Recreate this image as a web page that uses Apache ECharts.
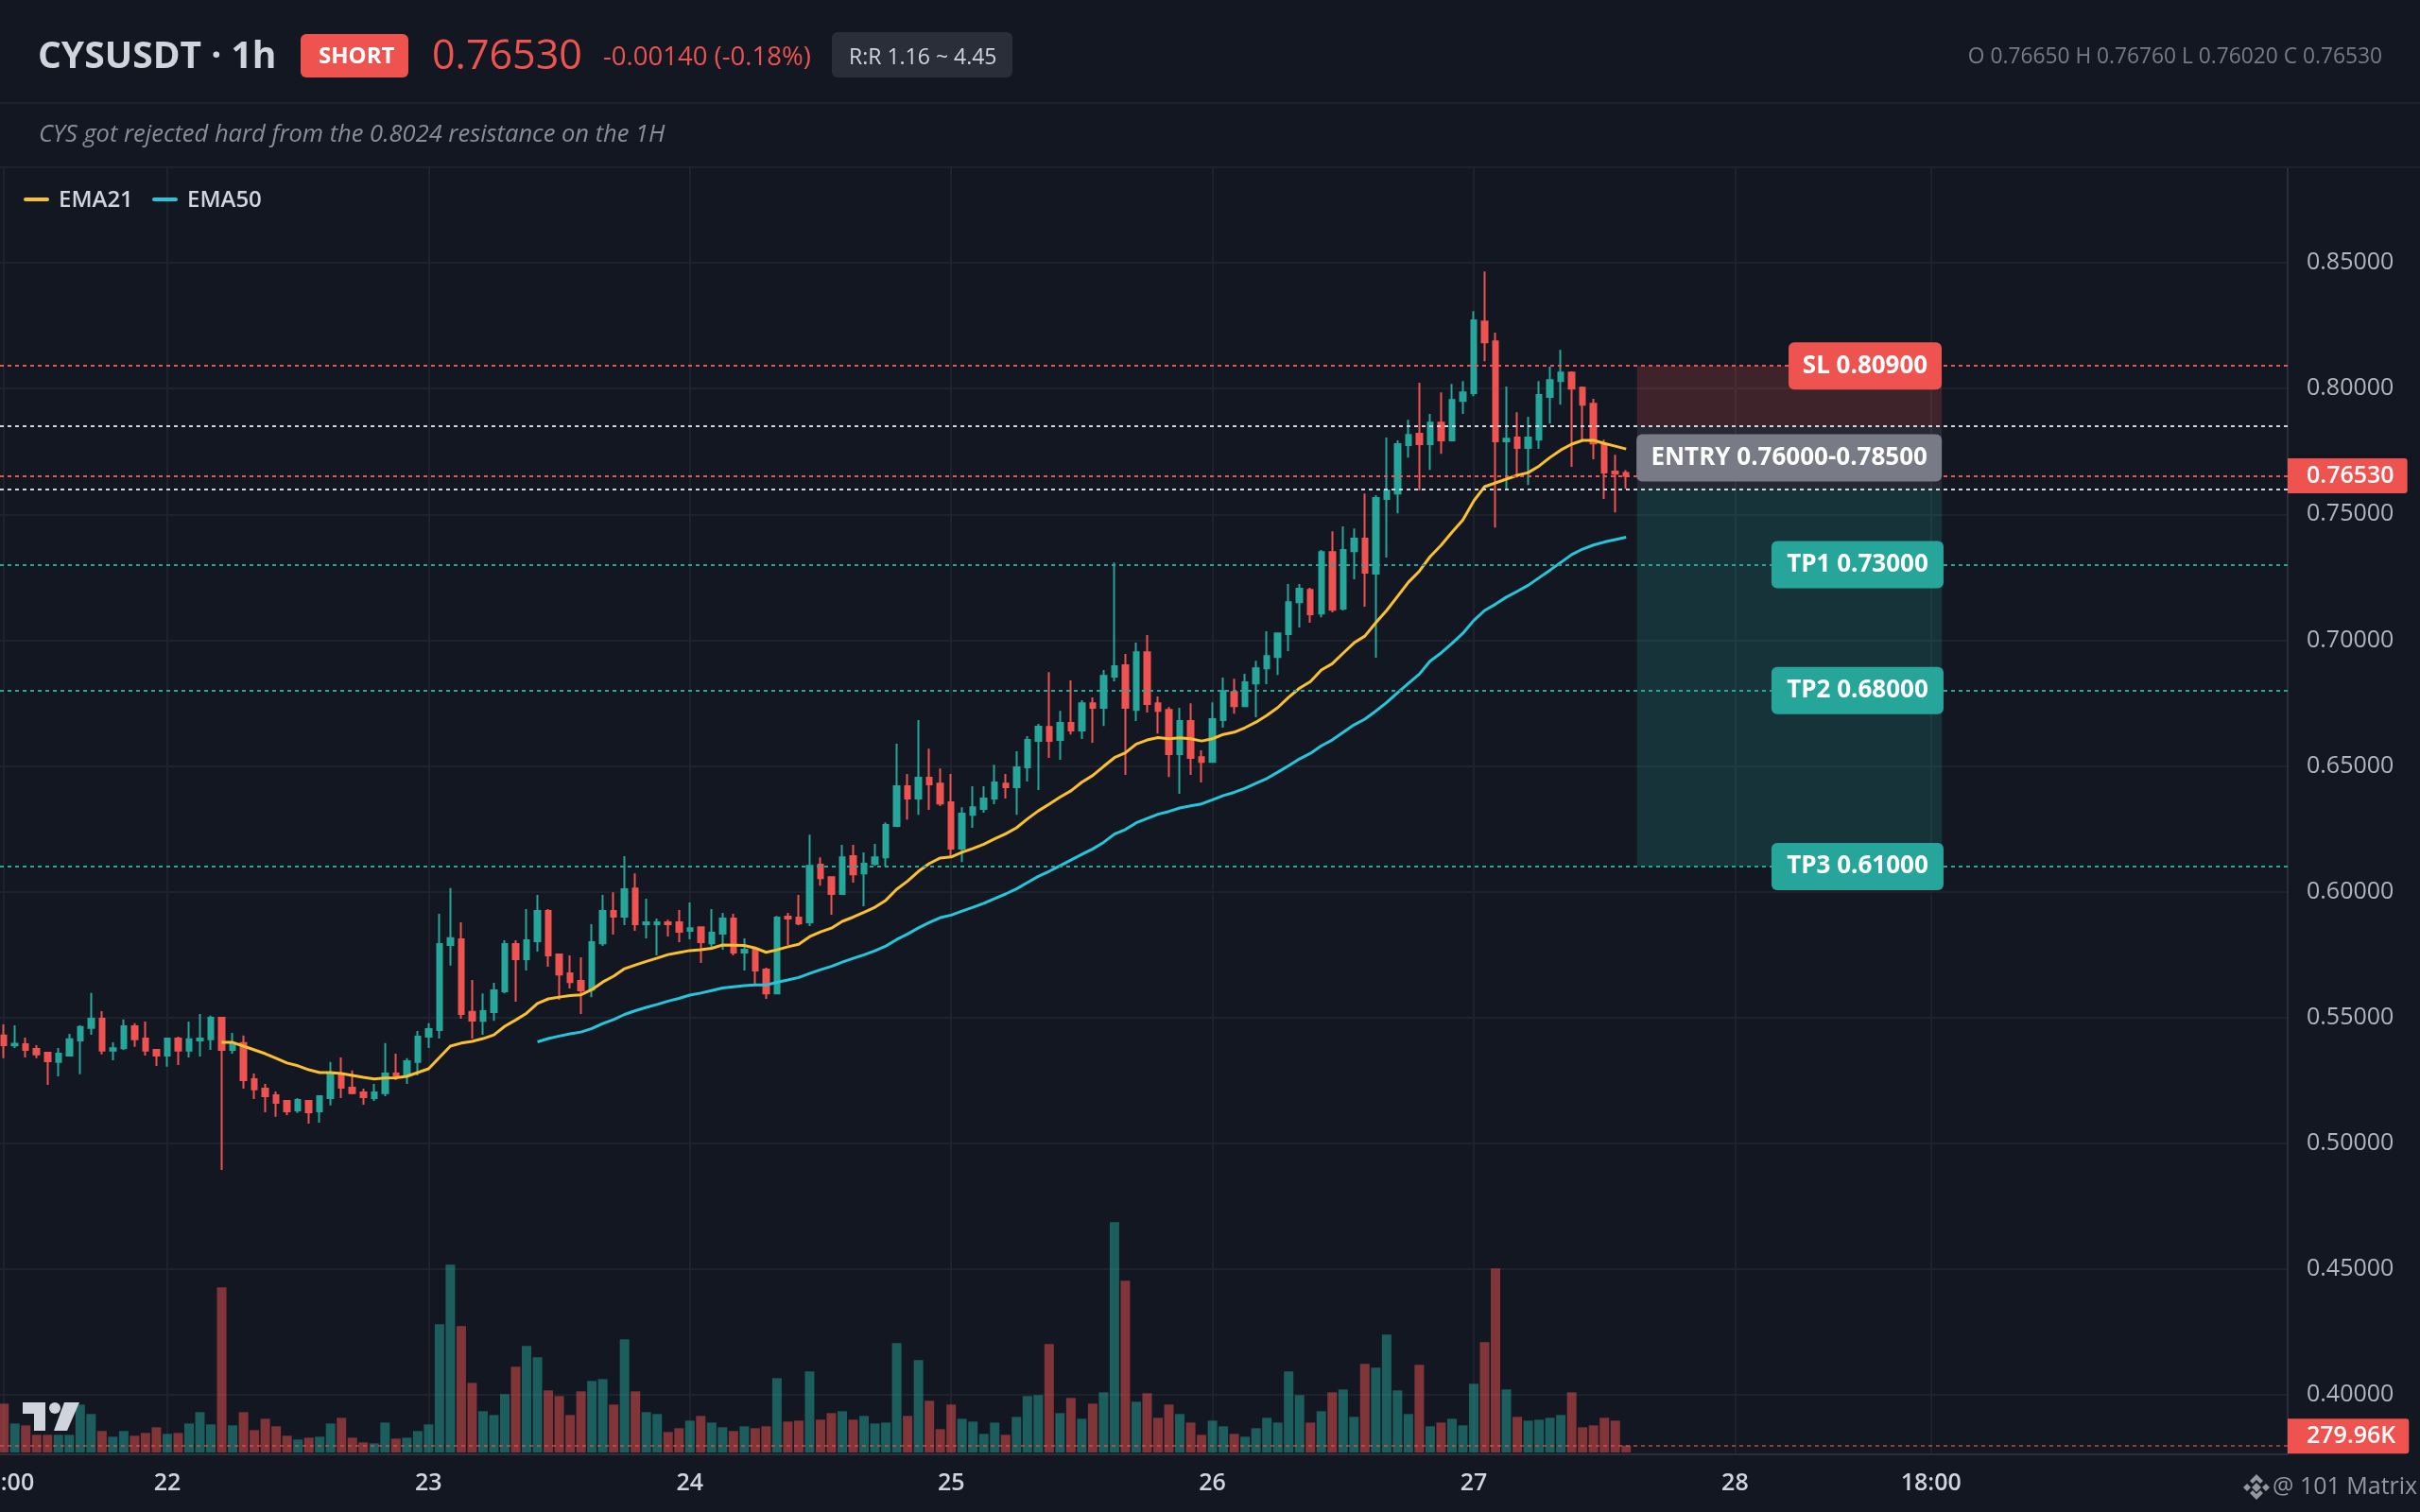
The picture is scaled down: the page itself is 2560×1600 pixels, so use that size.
<!DOCTYPE html>
<html><head><meta charset="utf-8"><title>CYSUSDT</title>
<script src="https://cdn.jsdelivr.net/npm/echarts@6/dist/echarts.min.js"></script>
<style>html,body{margin:0;padding:0;background:#131722}#c{width:2560px;height:1600px}</style>
</head><body><div id="c"></div>
<script>
const opens=[.5428,.5389,.5394,.5375,.5360,.5323,.5349,.5409,.5458,.5495,.5368,.5378,.5465,.5416,.5371,.5349,.5416,.5368,.5409,.5413,.5499,.5371,.5398,.5255,.5217,.5191,.5168,.5131,.5168,.5127,.5180,.5277,.5221,.5202,.5180,.5199,.5277,.5270,.5323,.5424,.5450,.5788,.5811,.5522,.5487,.5521,.5604,.5792,.5732,.5803,.5923,.5751,.5675,.5645,.5611,.5795,.5923,.5901,.6013,.5871,.5871,.5878,.5878,.5844,.5859,.5795,.5833,.5893,.5758,.5769,.5690,.5596,.5901,.5897,.5878,.6107,.6058,.5991,.6141,.6073,.6111,.6137,.6261,.6419,.6370,.6453,.6430,.6355,.6171,.6306,.6329,.6370,.6430,.6415,.6494,.6600,.6655,.6603,.6671,.6641,.6749,.6731,.6855,.6900,.6723,.6952,.6749,.6723,.6547,.6678,.6535,.6516,.6682,.6794,.6738,.6828,.6888,.6933,.7024,.7151,.7200,.7106,.7350,.7125,.7354,.7403,.7264,.7561,.7583,.7775,.7820,.7779,.7865,.7794,.7951,.7982,.8267,.8188,.7790,.7805,.7764,.7797,.7967,.8030,.8064,.8004,.7940,.7775,.7670,.7665];
const closes=[.5390,.5396,.5371,.5353,.5326,.5356,.5413,.5462,.5495,.5368,.5378,.5465,.5413,.5368,.5349,.5416,.5368,.5413,.5416,.5499,.5371,.5398,.5251,.5214,.5187,.5161,.5127,.5172,.5123,.5187,.5277,.5221,.5199,.5183,.5202,.5277,.5270,.5326,.5424,.5454,.5792,.5815,.5514,.5488,.5525,.5608,.5792,.5732,.5807,.5923,.5747,.5671,.5641,.5608,.5799,.5923,.5901,.6010,.5871,.5878,.5878,.5871,.5841,.5855,.5799,.5837,.5893,.5758,.5769,.5687,.5596,.5897,.5893,.5874,.6103,.6054,.5991,.6137,.6069,.6111,.6137,.6265,.6419,.6370,.6453,.6427,.6351,.6171,.6310,.6336,.6370,.6434,.6415,.6494,.6603,.6656,.6600,.6671,.6641,.6749,.6731,.6858,.6896,.6731,.6952,.6746,.6719,.6547,.6678,.6532,.6516,.6686,.6798,.6738,.6832,.6888,.6937,.7027,.7151,.7204,.7103,.7350,.7121,.7358,.7403,.7268,.7565,.7595,.7779,.7816,.7779,.7865,.7794,.7955,.7985,.8271,.8184,.7790,.7801,.7764,.7805,.7974,.8034,.8064,.8000,.7936,.7782,.7666,.7662,.7653];
const lows=[.5338,.5379,.5341,.5338,.5232,.5266,.5349,.5274,.5431,.5353,.5330,.5371,.5383,.5349,.5307,.5304,.5311,.5341,.5345,.5371,.4894,.5356,.5217,.5176,.5123,.5105,.5112,.5120,.5078,.5082,.5150,.5180,.5195,.5153,.5168,.5187,.5251,.5236,.5270,.5379,.5416,.5706,.5495,.5416,.5431,.5487,.5596,.5563,.5687,.5762,.5702,.5570,.5615,.5514,.5581,.5784,.5829,.5867,.5844,.5814,.5747,.5822,.5799,.5811,.5717,.5780,.5769,.5747,.5687,.5634,.5574,.5592,.5788,.5867,.5863,.6024,.5908,.5987,.6036,.5942,.6103,.6100,.6258,.6287,.6306,.6325,.6340,.6138,.6118,.6254,.6314,.6348,.6370,.6306,.6438,.6404,.6532,.6524,.6625,.6607,.6592,.6659,.6836,.6464,.6678,.6712,.6629,.6456,.6389,.6464,.6434,.6516,.6652,.6708,.6734,.6693,.6825,.6862,.6956,.7050,.7069,.7091,.7110,.7118,.7242,.7133,.6930,.7328,.7504,.7726,.7595,.7677,.7741,.7794,.7899,.7970,.8109,.7448,.7598,.7647,.7617,.7760,.7861,.7936,.7689,.7797,.7719,.7561,.7508,.7602];
const highs=[.5473,.5469,.5420,.5390,.5364,.5379,.5435,.5469,.5597,.5525,.5401,.5492,.5477,.5484,.5375,.5420,.5424,.5484,.5514,.5507,.5503,.5439,.5428,.5277,.5236,.5206,.5168,.5180,.5172,.5187,.5323,.5341,.5289,.5217,.5236,.5398,.5356,.5338,.5446,.5477,.5912,.6014,.5878,.5649,.5596,.5638,.5807,.5807,.5931,.5987,.5931,.5754,.5747,.5739,.5871,.5987,.5998,.6141,.6073,.5972,.5893,.5889,.5927,.5957,.5859,.5931,.5916,.5912,.5814,.5780,.5698,.5904,.5916,.5987,.6227,.6137,.6058,.6186,.6186,.6156,.6190,.6276,.6588,.6468,.6682,.6569,.6490,.6468,.6336,.6419,.6419,.6505,.6468,.6558,.6618,.6667,.6873,.6719,.6840,.6761,.6772,.6881,.7309,.6945,.6990,.7020,.6776,.6734,.6731,.6749,.6562,.6753,.6851,.6847,.6866,.6918,.7035,.7031,.7223,.7223,.7208,.7358,.7433,.7452,.7444,.7583,.7576,.7805,.7794,.7876,.8023,.7899,.7985,.8019,.8030,.8308,.8466,.8222,.8008,.7906,.7888,.8030,.8087,.8154,.8068,.8008,.7959,.7797,.7737,.7676];
const volumesK=[1973,1171,1095,713,713,713,713,1935,1553,866,637,866,675,789,1018,751,789,1171,1629,1133,6670,1095,1629,904,1362,1057,675,522,598,637,1171,1400,598,407,369,1209,560,598,866,1133,5181,7587,5105,2813,1668,1515,2355,3463,4303,3844,2508,2279,1515,2470,2890,2966,1935,4570,2470,1629,1553,827,980,1286,1477,1209,1018,866,1057,980,1057,3004,1248,1286,3272,1324,1591,1668,1324,1477,1171,1209,4417,1477,3730,2088,942,1935,1362,1248,751,1209,713,1438,2279,2317,4379,1591,2202,1362,1973,2431,9306,6938,2050,2393,1400,1935,1553,1209,713,1286,1057,751,637,980,1400,1209,3272,2317,1209,1668,2431,2546,1438,3577,3424,4761,2508,1553,3539,1057,1209,1362,1095,2775,4456,7434,2546,1438,1286,1324,1400,1515,2431,1018,1095,1400,1286,279.96];
const ema21=[null,null,null,null,null,null,null,null,null,null,null,null,null,null,null,null,null,null,null,null,.5401,.5401,.5386,.5371,.5356,.5338,.5319,.5308,.5292,.5281,.5281,.5277,.5270,.5262,.5256,.5259,.5260,.5266,.5281,.5296,.5341,.5386,.5398,.5405,.5416,.5431,.5465,.5490,.5517,.5556,.5574,.5581,.5587,.5590,.5611,.5641,.5664,.5694,.5709,.5723,.5736,.5750,.5758,.5766,.5769,.5775,.5788,.5787,.5786,.5776,.5759,.5769,.5781,.5791,.5821,.5840,.5855,.5882,.5899,.5918,.5938,.5966,.6010,.6042,.6081,.6112,.6134,.6138,.6157,.6172,.6189,.6210,.6230,.6254,.6289,.6321,.6348,.6376,.6401,.6435,.6462,.6498,.6533,.6552,.6587,.6603,.6613,.6608,.6612,.6608,.6599,.6608,.6625,.6634,.6652,.6674,.6701,.6732,.6773,.6809,.6835,.6881,.6906,.6948,.6989,.7016,.7069,.7118,.7174,.7230,.7274,.7332,.7377,.7429,.7478,.7553,.7610,.7625,.7640,.7655,.7666,.7692,.7726,.7756,.7779,.7794,.7794,.7782,.7771,.7760];
const ema50=[null,null,null,null,null,null,null,null,null,null,null,null,null,null,null,null,null,null,null,null,null,null,null,null,null,null,null,null,null,null,null,null,null,null,null,null,null,null,null,null,null,null,null,null,null,null,null,null,null,.5403,.5416,.5426,.5435,.5442,.5456,.5476,.5492,.5512,.5527,.5540,.5552,.5565,.5576,.5589,.5597,.5607,.5617,.5622,.5627,.5629,.5629,.5640,.5649,.5659,.5675,.5690,.5703,.5720,.5735,.5749,.5765,.5784,.5810,.5832,.5856,.5878,.5897,.5907,.5923,.5938,.5954,.5973,.5991,.6011,.6036,.6061,.6081,.6103,.6126,.6148,.6170,.6196,.6229,.6247,.6274,.6291,.6308,.6319,.6333,.6341,.6349,.6365,.6382,.6395,.6411,.6431,.6450,.6475,.6501,.6528,.6550,.6580,.6603,.6633,.6663,.6686,.6718,.6752,.6791,.6828,.6865,.6917,.6949,.6987,.7027,.7078,.7118,.7143,.7171,.7194,.7218,.7248,.7278,.7309,.7340,.7362,.7378,.7390,.7400,.7409];

const timeTicks=[0,15,39,63,87,111,135,159,177];
const timeLabels=['09:00','22','23','24','25','26','27','28','18:00'];
const priceTicks=[.40,.45,.50,.55,.60,.65,.70,.75,.80,.85];
const slPrice=.809, entryHigh=.785, entryLow=.76, tpPrices=[.73,.68,.61], lastPrice=.7653, lastVolumeK=279.96;
const planStart=150, planEnd=178;
const tagNames=['SL 0.80900','ENTRY 0.76000-0.78500','TP1 0.73000','TP2 0.68000','TP3 0.61000'];
const tagXs=[170.95,163.97,170.25,170.25,170.25];
const tagYs=[.809,.7725,.73,.68,.61];
const tagWidths=[162,323,182,182,182];
const tagColors=['#ef5350','#787b86','#26a69a','#26a69a','#26a69a'];

const BG='#131722',UP='#26a69a',DN='#ef5350',GRID='#1e222d',BORDER='#2a2e39',TEXT='#d1d4dc',AXIS='#b2b5be',FONT='"Open Sans","Noto Sans",sans-serif';
const xMin=-0.3647,xMax=209.76,BANDS=210,yMin=.37633,yMax=.88798;

const hours=opens.map((_,i)=>i);
const bandNames=Array.from({length:BANDS},(_,i)=>String(i));
const candleData=hours.map(i=>[opens[i],closes[i],lows[i],highs[i]]);
const volData=hours.map(i=>({value:[i,volumesK[i]],itemStyle:{color:closes[i]>=opens[i]?'rgba(38,166,154,.5)':'rgba(239,83,80,.5)'}}));
const lineData=a=>hours.filter(i=>a[i]!=null).map(i=>[i,a[i]]);
const level=(v,c)=>({yAxis:v,lineStyle:{color:c,type:[4,4],width:2},label:{show:false}});
const endTag=(txt,off,h)=>({show:true,position:'end',distance:0,formatter:txt,color:'#fff',fontFamily:FONT,fontWeight:600,fontSize:25,
  backgroundColor:DN,padding:[h,14,h,20],borderRadius:[0,3,3,0],offset:off});
const hText=(x,y,t,size,color,weight,extra)=>({type:'text',x,y:y+2,z:50,style:{text:t,font:`${extra||''} ${weight} ${size}px ${FONT}`,fill:color,verticalAlign:'middle'}});
const hLine=(y,c)=>({type:'rect',shape:{x:0,y:y-1,width:2560,height:2},style:{fill:c},z:50});
const pill=(x,y,w,h,c)=>({type:'rect',shape:{x,y,width:w,height:h,r:6},style:{fill:c},z:49});
const poly=(pts,c)=>({type:'polygon',shape:{points:pts},style:{fill:c},z:60});

const graphic=[
  hLine(109,'#1e222d'),hLine(177,'#1e222d'),
  hText(40,59,'CYSUSDT · 1h',39,TEXT,700),
  pill(318,36,114,46,DN),hText(337,58,'SHORT',24,'#fff',700),
  hText(457,59,'0.76530',43,DN,500),
  hText(638,59,'-0.00140 (-0.18%)',27.5,DN,500),
  pill(880,34,191,48,BORDER),hText(898,59,'R:R 1.16 ~ 4.45',23,TEXT,500),
  {type:'text',x:2520,y:61,z:50,style:{text:'O 0.76650 H 0.76760 L 0.76020 C 0.76530',font:`400 22.75px ${FONT}`,fill:'#787b86',align:'right',verticalAlign:'middle'}},
  hText(41,141,'CYS got rejected hard from the 0.8024 resistance on the 1H',25.5,'#8a8e99',400,'italic'),
  {type:'rect',shape:{x:25,y:209,width:27,height:4,r:2},style:{fill:'#fbc02d'},z:50},
  hText(62,210,'EMA21',24,TEXT,600),
  {type:'rect',shape:{x:161,y:209,width:27,height:4,r:2},style:{fill:'#26c6da'},z:50},
  hText(198,210,'EMA50',24,TEXT,600),
  poly([[24,1484],[48,1484],[48,1514],[36,1514],[36,1496],[24,1496]],TEXT),
  {type:'circle',shape:{cx:58,cy:1490,r:6},style:{fill:TEXT},z:60},
  poly([[68,1484],[84,1484],[71,1514],[57,1514]],TEXT),
  poly([[2387,1560],[2394,1567],[2391,1570],[2387,1566],[2383,1570],[2380,1567]],'#9598a1'),
  poly([[2387,1587],[2394,1580],[2391,1577],[2387,1581],[2383,1577],[2380,1580]],'#9598a1'),
  poly([[2373,1574],[2377,1570],[2381,1574],[2377,1578]],'#9598a1'),
  poly([[2393,1574],[2397,1570],[2401,1574],[2397,1578]],'#9598a1'),
  poly([[2387,1569],[2392,1574],[2387,1579],[2382,1574]],'#9598a1'),
  hText(2404,1572,'@ 101 Matrix',25,'#9598a1',400)
];

const chart=echarts.init(document.getElementById('c'),null,{renderer:'canvas',width:2560,height:1600});
chart.setOption({
  animation:false,backgroundColor:BG,
  grid:[
    {left:0,right:140,top:177,bottom:61,outerBoundsMode:'none'},
    {left:0,right:140,top:177,bottom:63,outerBoundsMode:'none'},
    {left:-1.56,width:2418.57,top:177,bottom:61,outerBoundsMode:'none'}
  ],
  xAxis:[
    {type:'value',gridIndex:0,min:xMin,max:xMax,
     axisLine:{show:true,onZero:false,lineStyle:{color:BORDER,width:2}},axisTick:{show:false,customValues:timeTicks},
     splitLine:{show:true,lineStyle:{color:GRID,width:2}},
     axisLabel:{customValues:timeTicks,margin:18,color:TEXT,fontFamily:FONT,fontSize:25,fontWeight:600,hideOverlap:false,showMinLabel:true,showMaxLabel:true,
       formatter:v=>timeLabels[timeTicks.indexOf(v)]}},
    {type:'value',gridIndex:1,min:xMin,max:xMax,show:false},
    {type:'category',gridIndex:2,data:bandNames,show:false,boundaryGap:true}
  ],
  yAxis:[
    {type:'value',gridIndex:0,position:'right',min:yMin,max:yMax,scale:true,
     axisLine:{show:true,onZero:false,lineStyle:{color:BORDER,width:2}},axisTick:{show:false,customValues:priceTicks},
     splitLine:{show:true,lineStyle:{color:GRID,width:2}},
     axisLabel:{customValues:priceTicks,margin:20,color:AXIS,fontFamily:FONT,fontSize:25,padding:[3,0,0,0],formatter:v=>v.toFixed(5)}},
    {type:'value',gridIndex:1,min:0,max:51938,show:false,splitLine:{show:false}},
    {type:'value',gridIndex:2,min:yMin,max:yMax,scale:true,show:false,splitLine:{show:false}}
  ],
  series:[
    {name:'Volume',type:'bar',xAxisIndex:1,yAxisIndex:1,barWidth:10,data:volData,z:2,
     markLine:{symbol:'none',silent:true,animation:false,data:[{yAxis:lastVolumeK,lineStyle:{color:'rgba(239,83,80,.6)',type:[4,4],width:2},
       label:endTag('279.96K',[0,-10],6)}]}},
    {name:'CYSUSDT',type:'candlestick',xAxisIndex:2,yAxisIndex:2,barWidth:6,data:candleData,z:3,
     itemStyle:{color:UP,color0:DN,borderColor:UP,borderColor0:DN,borderWidth:2}},
    {name:'EMA21',type:'line',xAxisIndex:0,yAxisIndex:0,data:lineData(ema21),showSymbol:false,z:4,lineStyle:{color:'#fbc02d',width:3}},
    {name:'EMA50',type:'line',xAxisIndex:0,yAxisIndex:0,data:lineData(ema50),showSymbol:false,z:4,lineStyle:{color:'#26c6da',width:3},
     markArea:{silent:true,animation:false,data:[
       [{xAxis:planStart,yAxis:slPrice,itemStyle:{color:'rgba(239,83,80,.2)'}},{xAxis:planEnd,yAxis:entryHigh}],
       [{xAxis:planStart,yAxis:entryHigh,itemStyle:{color:'rgba(209,212,220,.1)'}},{xAxis:planEnd,yAxis:entryLow}],
       [{xAxis:planStart,yAxis:entryLow,itemStyle:{color:'rgba(38,166,154,.2)'}},{xAxis:planEnd,yAxis:tpPrices[2]}]
     ]},
     markLine:{symbol:'none',silent:true,animation:false,precision:5,data:[
       level(slPrice,DN),level(entryHigh,TEXT),level(entryLow,TEXT),
       level(tpPrices[0],UP),level(tpPrices[1],UP),level(tpPrices[2],UP),
       Object.assign(level(lastPrice,DN),{label:endTag('0.76530',[0,0],6)})
     ]}},
    {name:'Tags',type:'scatter',xAxisIndex:0,yAxisIndex:0,symbolSize:1,z:6,itemStyle:{color:'transparent',opacity:1},
     data:tagNames.map((n,i)=>({value:[tagXs[i],tagYs[i]],label:{show:true,position:'inside',align:'center',verticalAlign:'middle',formatter:n,
        color:'#fff',fontFamily:FONT,fontWeight:700,fontSize:26,width:tagWidths[i],height:50,lineHeight:50,backgroundColor:tagColors[i],borderRadius:6}}))}
  ],
  graphic:{elements:graphic}
});
</script></body></html>
